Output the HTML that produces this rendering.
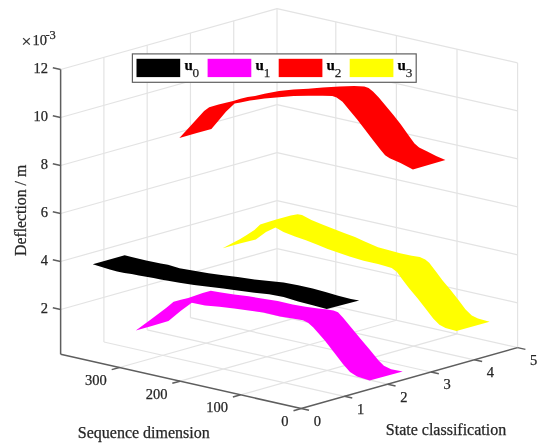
<!DOCTYPE html>
<html><head><meta charset="utf-8"><title>Deflection ribbons</title>
<style>html,body{margin:0;padding:0;background:#fff;overflow:hidden}svg{display:block}</style>
</head><body>
<svg width="550" height="448" viewBox="0 0 550 448">
<style>
.g{stroke:#e3e3e3;stroke-width:1.2;fill:none}
.a{stroke:#5e5e5e;stroke-width:1.5;fill:none;stroke-linecap:butt}
.t{font-family:"Liberation Serif",serif;font-size:14.5px;fill:#262626;stroke:#262626;stroke-width:0.25px}
.l{font-size:16px}
.lb{font-weight:bold;font-size:15px;fill:#000;stroke:#000}
</style>
<rect width="550" height="448" fill="#fff"/>
<g><line x1="344.48" y1="396.34" x2="103.9" y2="342.03" class="g"/><line x1="387.76" y1="384.16" x2="147.18" y2="329.85" class="g"/><line x1="431.04" y1="371.98" x2="190.46" y2="317.67" class="g"/><line x1="474.32" y1="359.8" x2="233.74" y2="305.49" class="g"/><line x1="517.6" y1="347.62" x2="277.02" y2="293.31" class="g"/><line x1="240.6" y1="394.84" x2="457" y2="333.94" class="g"/><line x1="180" y1="381.16" x2="396.4" y2="320.26" class="g"/><line x1="119.4" y1="367.48" x2="335.8" y2="306.58" class="g"/><line x1="60.62" y1="309.49" x2="277.02" y2="248.59" class="g"/><line x1="60.62" y1="261.49" x2="277.02" y2="200.59" class="g"/><line x1="60.62" y1="213.49" x2="277.02" y2="152.59" class="g"/><line x1="60.62" y1="165.49" x2="277.02" y2="104.59" class="g"/><line x1="60.62" y1="117.49" x2="277.02" y2="56.59" class="g"/><line x1="60.62" y1="69.49" x2="277.02" y2="8.59" class="g"/><line x1="103.9" y1="342.03" x2="103.9" y2="57.31" class="g"/><line x1="147.18" y1="329.85" x2="147.18" y2="45.13" class="g"/><line x1="190.46" y1="317.67" x2="190.46" y2="32.95" class="g"/><line x1="233.74" y1="305.49" x2="233.74" y2="20.77" class="g"/><line x1="277.02" y1="293.31" x2="277.02" y2="8.59" class="g"/><line x1="517.6" y1="302.9" x2="277.02" y2="248.59" class="g"/><line x1="517.6" y1="254.9" x2="277.02" y2="200.59" class="g"/><line x1="517.6" y1="206.9" x2="277.02" y2="152.59" class="g"/><line x1="517.6" y1="158.9" x2="277.02" y2="104.59" class="g"/><line x1="517.6" y1="110.9" x2="277.02" y2="56.59" class="g"/><line x1="517.6" y1="62.9" x2="277.02" y2="8.59" class="g"/><line x1="517.6" y1="347.62" x2="517.6" y2="62.9" class="g"/><line x1="457" y1="333.94" x2="457" y2="49.22" class="g"/><line x1="396.4" y1="320.26" x2="396.4" y2="35.54" class="g"/><line x1="335.8" y1="306.58" x2="335.8" y2="21.86" class="g"/></g>
<g><polygon points="222.7,248.2 232.5,243.1 239.8,239.2 247.1,234.8 254.4,230 260.2,224.6 268.9,221.7 276.2,219.5 283.5,217.4 290.7,215.5 297.6,214.3 302,215 311.4,220 322.3,224.4 333.2,228.7 344.1,233.1 355,237 363.6,241.1 378,247.2 390,250.5 400,253.3 411.8,255.8 419.8,257.1 425.2,259.4 429.2,262.8 435.9,271.5 442.6,280.5 450.2,289.6 457.9,299.3 465.6,309.4 471.8,315.5 478,318.6 489.6,321.7 456.4,331 445.5,327.9 439.4,324.8 433.2,318.6 425.5,308.6 417.7,298.5 409.1,288.2 402.4,279.5 397,272.1 391.7,268.1 385,266.1 378,264 363.6,260.7 349.5,256.5 338.6,252.7 327.7,248.9 316.8,244.5 305.9,240.2 295,236.4 283.5,231.9 275.5,227.5 266,231.9 255.8,239.6 239.8,243.5" fill="#ffff00"/><polygon points="179.4,138 189.5,127.1 196.8,119.1 204.1,111.1 209.2,107.2 218.6,104.5 225.9,102.8 233.2,100.9 240.5,98.7 247.7,97 255,96 264.5,93.8 279.1,90.9 293.6,89.5 308.2,88.7 322.7,87.6 339.5,86.5 354.1,86.1 364.3,86.5 368.6,88 373,91.6 378.8,97.5 386.1,106.2 393.4,114.9 400.5,124 408.3,135.1 414.5,143.6 419.1,147.5 426.8,151.3 436.1,156 445.4,160.1 412.9,169.4 400.5,162.9 389.7,158.3 385.1,155.2 380.5,149.8 372.7,139.7 364.3,128.7 357,119.3 349.7,110.5 342.5,101.8 336.6,97.5 332.3,96 322.7,95.7 308.2,95.7 293.6,96 279.1,97.2 264.5,98.6 250,100.4 240.5,102.4 234.6,103.4 225.9,111.8 218.6,120.5 211.4,129 196.8,132.9" fill="#ff0000"/><polygon points="135.8,330.4 151.8,318.7 166.4,307.8 173.6,301.7 180.9,299.8 188.2,297.9 195.5,295.5 202.7,293 210.8,290.8 219.5,292.3 234.1,294.5 248.6,296.3 263.2,298.8 277.7,301 292.7,304.4 305.5,306.7 318.2,308.4 327.1,309.5 333.5,310.5 338,312.3 342.9,317.5 351.8,328.2 360.7,338.9 369.6,349.6 378.6,360.4 383.9,365.7 391.1,369.3 402.7,371.6 369.6,380.4 357.1,376.4 350,372 342.9,363.9 333.9,352.3 325,340.7 318.2,333 313.1,327.3 308,322.8 302.9,320.3 292.7,318.4 280,316.5 263.2,312.6 248.6,310.5 234.1,308.6 219.5,306.8 205,305.4 191.8,302.7 180.9,310.7 168.5,320.9 151.8,326" fill="#ff00ff"/><polygon points="92.7,264.3 124.7,255.2 131.6,257 138.9,258.7 146.2,260.5 153.5,261.9 160.7,263.4 168,264.8 179.5,268.2 194.1,270.8 208.6,273.3 223.2,275.2 237.7,276.9 254.5,279.6 269.1,281.1 283.6,282.5 298.2,285.2 312.7,288.4 325.5,292 338.2,295.8 350.9,299 359.2,300.5 326.7,308.9 312.7,305.3 298.2,301.5 283.6,297.1 269.1,294.2 254.5,292.7 237.7,290.5 223.2,288.5 208.6,286.7 194.1,284.9 179.5,282.7 168,280.8 160.7,279.5 153.5,278.1 146.2,276.8 138.9,275.5 131.6,274.1 124.4,273 117.1,271.5 109.8,269.6 102.5,267.2" fill="#000000"/></g>
<g><line x1="60.62" y1="354.21" x2="60.62" y2="69.49" class="a"/><line x1="301.2" y1="408.52" x2="60.62" y2="354.21" class="a"/><line x1="301.2" y1="408.52" x2="517.6" y2="347.62" class="a"/><line x1="60.62" y1="309.49" x2="52.81" y2="307.73" class="a"/><line x1="60.62" y1="261.49" x2="52.81" y2="259.73" class="a"/><line x1="60.62" y1="213.49" x2="52.81" y2="211.73" class="a"/><line x1="60.62" y1="165.49" x2="52.81" y2="163.73" class="a"/><line x1="60.62" y1="117.49" x2="52.81" y2="115.73" class="a"/><line x1="60.62" y1="69.49" x2="52.81" y2="67.73" class="a"/><line x1="301.2" y1="408.52" x2="293.5" y2="410.69" class="a"/><line x1="240.6" y1="394.84" x2="232.9" y2="397.01" class="a"/><line x1="180" y1="381.16" x2="172.3" y2="383.33" class="a"/><line x1="119.4" y1="367.48" x2="111.7" y2="369.65" class="a"/><line x1="301.2" y1="408.52" x2="309" y2="410.28" class="a"/><line x1="344.48" y1="396.34" x2="352.28" y2="398.1" class="a"/><line x1="387.76" y1="384.16" x2="395.56" y2="385.92" class="a"/><line x1="431.04" y1="371.98" x2="438.84" y2="373.74" class="a"/><line x1="474.32" y1="359.8" x2="482.12" y2="361.56" class="a"/><line x1="517.6" y1="347.62" x2="525.4" y2="349.38" class="a"/></g>
<g><text x="48.12" y="312.89" text-anchor="end" class="t">2</text><text x="48.12" y="264.89" text-anchor="end" class="t">4</text><text x="48.12" y="216.89" text-anchor="end" class="t">6</text><text x="48.12" y="168.89" text-anchor="end" class="t">8</text><text x="48.12" y="120.89" text-anchor="end" class="t">10</text><text x="48.12" y="72.89" text-anchor="end" class="t">12</text><text x="288.6" y="426.02" text-anchor="end" class="t">0</text><text x="228" y="412.34" text-anchor="end" class="t">100</text><text x="167.4" y="398.66" text-anchor="end" class="t">200</text><text x="106.8" y="384.98" text-anchor="end" class="t">300</text><text x="313.7" y="426.02" class="t">0</text><text x="356.98" y="413.84" class="t">1</text><text x="400.26" y="401.66" class="t">2</text><text x="443.54" y="389.48" class="t">3</text><text x="486.82" y="377.3" class="t">4</text><text x="530.1" y="365.12" class="t">5</text><text x="21.6" y="46.8" class="t" style="font-size:17.5px">×</text><text x="32.6" y="45.2" class="t">10</text><text x="45.4" y="38.6" class="t" style="font-size:12.5px">-3</text><text transform="translate(25.8,256) rotate(-90)" class="t" style="font-size:15.8px">Deflection / m</text><text x="77.8" y="437.8" class="t l">Sequence dimension</text><text x="385.8" y="434.8" class="t l">State classification</text></g>
<g><rect x="132.4" y="53.9" width="283.8" height="28.4" fill="#fff" stroke="#606060" stroke-width="1.2"/><rect x="136.5" y="58.8" width="43.7" height="18.3" fill="#000000"/><text x="184.4" y="70.2" class="t lb">u</text><text x="192.6" y="77.3" class="t" style="font-size:13.2px">0</text><rect x="207.6" y="58.8" width="43.7" height="18.3" fill="#ff00ff"/><text x="255.5" y="70.2" class="t lb">u</text><text x="263.7" y="77.3" class="t" style="font-size:13.2px">1</text><rect x="278.7" y="58.8" width="43.7" height="18.3" fill="#ff0000"/><text x="326.6" y="70.2" class="t lb">u</text><text x="334.8" y="77.3" class="t" style="font-size:13.2px">2</text><rect x="349.7" y="58.8" width="43.7" height="18.3" fill="#ffff00"/><text x="397.6" y="70.2" class="t lb">u</text><text x="405.8" y="77.3" class="t" style="font-size:13.2px">3</text></g>
</svg>
</body></html>
